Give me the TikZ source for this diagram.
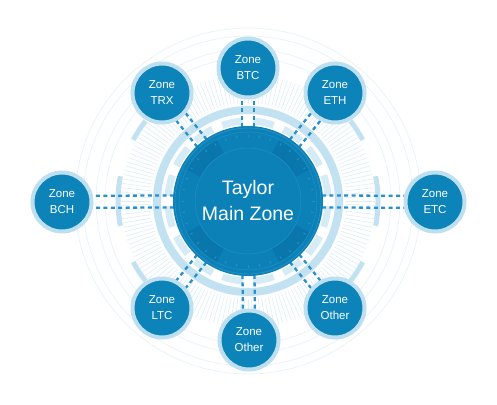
\documentclass[tikz,border=0pt]{standalone}
\usepackage{fontspec}
\setmainfont{Liberation Sans}
\usetikzlibrary{calc}
\definecolor{mblue}{HTML}{0B81B8}
\definecolor{sblue}{HTML}{0C84BA}
\definecolor{halo}{HTML}{BEDFEF}
\definecolor{ringc}{HTML}{C3E2F1}
\definecolor{segc}{HTML}{D5EBF6}
\definecolor{tickc}{HTML}{DCEEF7}
\definecolor{faint}{HTML}{E6F2F9}
\definecolor{dashc}{HTML}{2A90CB}
\definecolor{innerdark}{HTML}{0976AC}
\definecolor{innerline}{HTML}{2290C3}
\pgfdeclarelayer{back}
\pgfdeclarelayer{mid}
\pgfsetlayers{back,mid,main}
\begin{document}
\begin{tikzpicture}[x=1pt,y=-1pt,
  sat/.style={circle, minimum size=59pt, inner sep=0pt, fill=sblue, draw=halo,
    line width=4pt, text=white, align=center, font=\fontsize{11.5}{16}\selectfont},
  hub/.style={circle, minimum size=150pt, inner sep=0pt, fill=mblue, text=white,
    align=center, font=\fontsize{19.5}{26}\selectfont},
  conn/.style={draw=dashc, line width=2.3pt, dash pattern=on 4pt off 3.4pt,
    shorten <=74pt, shorten >=29pt},
  tickl/.style={draw=tickc, line width=0.6pt},
  faintl/.style={draw=faint, line width=0.7pt},
  outarc/.style={draw=ringc, line width=5pt},
  segl/.style={draw=segc, line width=7pt},
  bigring/.style={draw=ringc, line width=8pt},
  innerseg/.style={draw=innerdark, line width=15pt},
  innerl/.style={draw=innerline, line width=0.5pt}]
\useasboundingbox (0,0) rectangle (497,404);

% hub
\node[hub, path picture={
    \coordinate (pc) at (path picture bounding box.center);
    \foreach \a in {45,135,225,315}
      \draw[innerseg] (pc) ++(\a-18:61pt) arc[start angle=\a-18, end angle=\a+18, radius=61pt];
    \draw[innerl] (pc) circle[radius=53pt];
    \draw[innerl] (pc) circle[radius=69pt];
    \draw[innerl, line width=0.8pt] (pc) circle[radius=73pt];
    \foreach \a in {0,10,...,350}
      \draw[innerline, line width=1pt] (pc) ++(\a:64pt) -- ++(\a:2.5pt);
  }] (m) at (248,201) {Taylor\\Main Zone};

% satellites
\node[sat] (btc)  at (248,68)  {Zone\\BTC};
\node[sat] (eth)  at (335,93)  {Zone\\ETH};
\node[sat] (etc)  at (435,202) {Zone\\ETC};
\node[sat] (oth1) at (335,308) {Zone\\Other};
\node[sat] (oth2) at (249,340) {Zone\\Other};
\node[sat] (ltc)  at (162,308) {Zone\\LTC};
\node[sat] (bch)  at (62,202)  {Zone\\BCH};
\node[sat] (trx)  at (162,93)  {Zone\\TRX};

% decorations
\begin{pgfonlayer}{back}
  \foreach \r in {143,152,165,173}
    \draw[faintl] (m.center) circle[radius=\r pt];
  \foreach \a in {0,2,...,358}
    \draw[tickl] (m.center) ++(\a:98pt) -- ++(\a:29pt);
  \draw[outarc] (m.center) ++(-11:130pt) arc[start angle=-11, end angle=11, radius=130pt];
  \draw[outarc] (m.center) ++(169:130pt) arc[start angle=169, end angle=191, radius=130pt];
  \foreach \a in {33,147,213,327}
    \draw[outarc] (m.center) ++(\a-5:130pt) arc[start angle=\a-5, end angle=\a+5, radius=130pt];
  \draw[bigring] (m.center) circle[radius=91pt];
  \foreach \k in {0,...,15}{
    \pgfmathsetmacro\st{22.5*\k+3.75}
    \draw[segl] (m.center) ++(\st:80pt) arc[start angle=\st, end angle=\st+15, radius=80pt];
  }
\end{pgfonlayer}

% connectors
\begin{pgfonlayer}{mid}
  \foreach \n in {btc,eth,etc,oth1,oth2,ltc,bch,trx}{
    \draw[conn] ($(m.center)!6pt!90:(\n.center)$) -- ($(\n.center)!6pt!-90:(m.center)$);
    \draw[conn] ($(m.center)!6pt!-90:(\n.center)$) -- ($(\n.center)!6pt!90:(m.center)$);
  }
\end{pgfonlayer}
\end{tikzpicture}
\end{document}
